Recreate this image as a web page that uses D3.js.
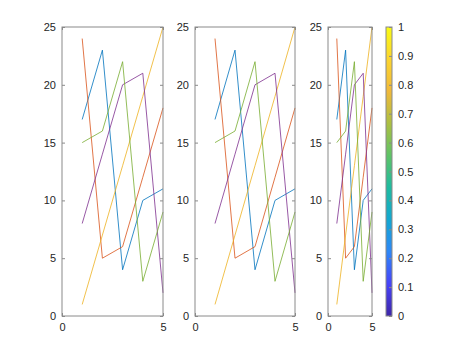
<!DOCTYPE html>
<html>
<head>
<meta charset="utf-8">
<script src="https://d3js.org/d3.v7.min.js"></script>
<style>
	body { margin: 0; background: #fff; }
	text { font-family: "Liberation Sans", Arial, Helvetica, sans-serif; font-size: 11px; fill: #262626; }
	.frame { fill: none; stroke: #8a8a8a; stroke-width: 1; }
	.tick line { stroke: #8a8a8a; }
</style>
</head>
<body>
<svg id="chart" width="474" height="355"></svg>
<script>
// plot(magic(5)) - one series per column
var xVals = [1, 2, 3, 4, 5];
var series1 = [17, 23, 4, 10, 11];
var series2 = [24, 5, 6, 12, 18];
var series3 = [1, 7, 13, 19, 25];
var series4 = [8, 14, 20, 21, 2];
var series5 = [15, 16, 22, 3, 9];
var allSeries = [series1, series2, series3, series4, series5];
var lineColors = ["#0072BD", "#D95319", "#EDB120", "#7E2F8E", "#77AC30"];
var xTicks = [0, 5];
var yTicks = [0, 5, 10, 15, 20, 25];
var cbTicks = [0, 0.1, 0.2, 0.3, 0.4, 0.5, 0.6, 0.7, 0.8, 0.9, 1];
// parula colormap anchor colours
var parulaStops = ["#3e26a8", "#4743f8", "#2e87f7", "#14a7d1", "#1fbba0", "#5fc367", "#acbf42", "#f0b93a", "#fcd52f", "#f9fb15"];

var svg = d3.select("#chart");
var plotTop = 27, plotBottom = 316;
var panels = [
	{ left: 62, right: 163 },
	{ left: 195, right: 295 },
	{ left: 328, right: 372 }
];
var intFmt = d3.format("d");

panels.forEach(function (p) {
	var g = svg.append("g");
	var x = d3.scaleLinear().domain([0, 5]).range([p.left, p.right]);
	var y = d3.scaleLinear().domain([0, 25]).range([plotBottom, plotTop]);

	var line = d3.line()
		.x(function (d, i) { return x(xVals[i]); })
		.y(function (d) { return y(d); });

	allSeries.forEach(function (s, i) {
		g.append("path")
			.datum(s)
			.attr("fill", "none")
			.attr("stroke", lineColors[i])
			.attr("stroke-width", 0.8)
			.attr("d", line);
	});

	// axes with inward ticks
	var ax = g.append("g").attr("transform", "translate(0," + plotBottom + ")")
		.call(d3.axisBottom(x).tickValues(xTicks).tickSize(-3).tickPadding(7).tickFormat(intFmt));
	ax.select(".domain").remove();
	ax.selectAll("text").style("font-size", "11px");
	var axTop = g.append("g").attr("transform", "translate(0," + plotTop + ")")
		.call(d3.axisTop(x).tickValues(xTicks).tickSize(-3).tickFormat(""));
	axTop.select(".domain").remove();

	var ay = g.append("g").attr("transform", "translate(" + p.left + ",0)")
		.call(d3.axisLeft(y).tickValues(yTicks).tickSize(-3).tickPadding(6).tickFormat(intFmt));
	ay.select(".domain").remove();
	ay.selectAll("text").style("font-size", "11px");
	var ayR = g.append("g").attr("transform", "translate(" + p.right + ",0)")
		.call(d3.axisRight(y).tickValues(yTicks).tickSize(-3).tickFormat(""));
	ayR.select(".domain").remove();

	g.append("rect")
		.attr("class", "frame")
		.attr("x", p.left).attr("y", plotTop)
		.attr("width", p.right - p.left).attr("height", plotBottom - plotTop);
});

// colorbar
var cbLeft = 386, cbRight = 392;
var cbScale = d3.scaleLinear().domain([0, 1]).range([plotBottom, plotTop]);
var defs = svg.append("defs");
var grad = defs.append("linearGradient").attr("id", "parula")
	.attr("x1", 0).attr("y1", 1).attr("x2", 0).attr("y2", 0);
parulaStops.forEach(function (c, i) {
	grad.append("stop")
		.attr("offset", i / (parulaStops.length - 1))
		.attr("stop-color", c);
});
svg.append("rect")
	.attr("x", cbLeft).attr("y", plotTop)
	.attr("width", cbRight - cbLeft).attr("height", plotBottom - plotTop)
	.attr("fill", "url(#parula)");
var cb = svg.append("g").attr("transform", "translate(" + cbRight + ",0)")
	.call(d3.axisRight(cbScale).tickValues(cbTicks).tickSize(-3).tickPadding(6)
		.tickFormat(function (d) { return d === 0 || d === 1 ? intFmt(d) : d3.format(".1f")(d); }));
cb.select(".domain").remove();
cb.selectAll("text").style("font-size", "11px");
svg.append("rect")
	.attr("class", "frame")
	.attr("x", cbLeft).attr("y", plotTop)
	.attr("width", cbRight - cbLeft).attr("height", plotBottom - plotTop);
</script>
</body>
</html>
